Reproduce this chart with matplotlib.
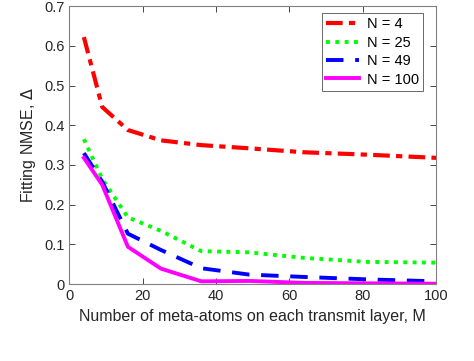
import numpy as np
import matplotlib.pyplot as plt

plt.rcParams['font.family'] = ['Liberation Sans', 'DejaVu Sans']

# number of meta-atoms on each transmit layer
M = [4, 9, 16, 25, 36, 49, 64, 81, 100]

# fitting NMSE for each N
nmse_4 = [0.622, 0.446, 0.388, 0.362, 0.350, 0.342, 0.332, 0.326, 0.318]
nmse_25 = [0.365, 0.265, 0.168, 0.134, 0.083, 0.080, 0.066, 0.056, 0.054]
nmse_49 = [0.330, 0.258, 0.127, 0.086, 0.040, 0.024, 0.018, 0.012, 0.007]
nmse_100 = [0.318, 0.250, 0.094, 0.039, 0.007, 0.008, 0.003, 0.002, 0.001]

labels = ['N = 4', 'N = 25', 'N = 49', 'N = 100']

fig = plt.figure(figsize=(4.74, 3.61), dpi=100)
ax = fig.add_axes([0.146, 0.213, 0.774, 0.770])

ax.plot(M, nmse_4, color='#ff0000', linestyle=(0, (4, 1.5, 1.5, 1.5)), lw=3, label=labels[0])
ax.plot(M, nmse_25, color='#00ff00', linestyle=(0, (1, 1.4)), lw=2.8, label=labels[1])
ax.plot(M, nmse_49, color='#0000ff', linestyle=(0, (4.5, 3)), lw=2.8, label=labels[2])
ax.plot(M, nmse_100, color='#ff00ff', linestyle='-', lw=2.8, label=labels[3])

ax.set_xlim(0, 100)
ax.set_ylim(0, 0.7)
ax.set_xticks([0, 20, 40, 60, 80, 100])
ax.set_yticks([0, 0.1, 0.2, 0.3, 0.4, 0.5, 0.6, 0.7])
ax.set_yticklabels(['0', '0.1', '0.2', '0.3', '0.4', '0.5', '0.6', '0.7'])
ax.tick_params(direction='in', top=True, right=True, labelsize=10.5,
               colors='#262626', length=4, width=0.6)
for s in ax.spines.values():
    s.set_color('#808080')
    s.set_linewidth(0.8)

ax.set_xlabel('Number of meta-atoms on each transmit layer, M', fontsize=11.5, color='#262626')
ax.set_ylabel('Fitting NMSE, $\\Delta$', fontsize=11.5, color='#262626')

leg = ax.legend(loc='upper right', bbox_to_anchor=(0.965, 0.975), borderaxespad=0,
                fontsize=10.5, fancybox=False, edgecolor='#262626', handlelength=2.3,
                borderpad=0.3, labelspacing=0.3, handletextpad=0.5)
leg.get_frame().set_linewidth(0.6)

fig.savefig('out.png', dpi=100)
